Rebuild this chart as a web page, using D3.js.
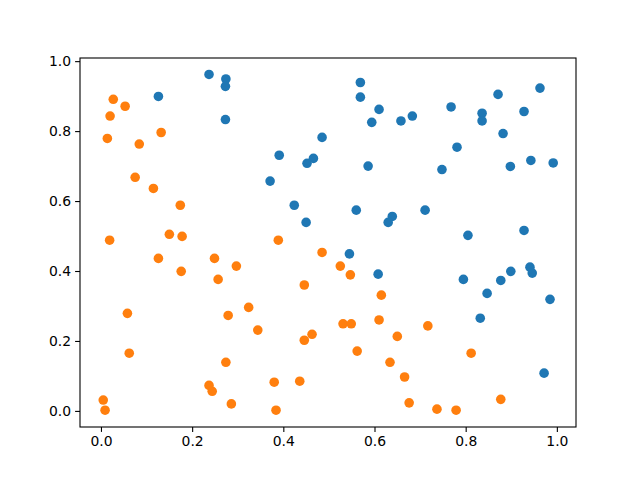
<!DOCTYPE html>
<html>
<head>
<meta charset="utf-8">
<script src="https://cdn.jsdelivr.net/npm/d3@7"></script>
<style>
  body { margin: 0; background: #fff; }
  text { font-family: "DejaVu Sans", sans-serif; }
</style>
</head>
<body>
<svg id="chart" width="640" height="480"></svg>
<script>
// series values
const blueX = [.237,.274,.273,.126,.273,.485,.391,.466,.452,.371,.424,.450,
  .569,.569,.610,.594,.658,.683,.768,.836,.836,.871,.963,.928,.882,.781,.586,.748,.898,.943,.992,.560,.711,.639,.630,.805,.928,
  .545,.608,.795,.877,.899,.941,.946,.847,.985,.832,.972];
const blueY = [.962,.949,.928,.899,.833,.782,.731,.722,.708,.657,.588,.539,
  .939,.897,.862,.825,.829,.843,.869,.851,.829,.905,.923,.856,.793,.754,.700,.690,.699,.716,.709,.574,.574,.556,.539,.502,.516,
  .449,.391,.376,.373,.399,.411,.394,.336,.319,.265,.108];
const orangeX = [.027,.053,.020,.132,.014,.084,.075,.115,.174,.150,.178,.019,.389,
  .485,.525,.547,.615,.531,.549,.610,.717,.650,.562,.812,.634,.666,.676,.877,.737,.779,
  .126,.249,.176,.297,.257,.446,.324,.058,.279,.344,.463,.446,.062,.274,.380,.436,.237,.244,.005,.286,.009,.384];
const orangeY = [.891,.871,.843,.796,.779,.763,.668,.636,.588,.505,.499,.488,.488,
  .453,.414,.389,.331,.249,.249,.260,.243,.213,.171,.165,.139,.097,.023,.033,.005,.002,
  .436,.436,.399,.414,.376,.360,.296,.279,.273,.231,.219,.202,.165,.139,.082,.085,.073,.056,.031,.020,.002,.002];
const xTicks = [0, 0.2, 0.4, 0.6, 0.8, 1.0];
const yTicks = [0, 0.2, 0.4, 0.6, 0.8, 1.0];

const svg = d3.select('#chart');
const margin = {top: 58, right: 64, bottom: 53, left: 80};
const W = 640, H = 480;

const x = d3.scaleLinear().domain([-0.046, 1.042]).range([margin.left, W - margin.right]);
const y = d3.scaleLinear().domain([-0.046, 1.009]).range([H - margin.bottom, margin.top]);

const series = [
  {xs: blueX, ys: blueY, color: '#1f77b4'},
  {xs: orangeX, ys: orangeY, color: '#ff7f0e'}
];

series.forEach(s => {
  svg.append('g').selectAll('circle')
    .data(s.xs.map((v, i) => [v, s.ys[i]]))
    .enter().append('circle')
    .attr('cx', d => x(d[0]))
    .attr('cy', d => y(d[1]))
    .attr('r', 4.8)
    .style('fill', s.color);
});

const xAxis = d3.axisBottom(x).tickValues(xTicks).tickSize(4.9).tickPadding(4).tickFormat(d3.format('.1f'));
const yAxis = d3.axisLeft(y).tickValues(yTicks).tickSize(4.9).tickPadding(4).tickFormat(d3.format('.1f'));

const gx = svg.append('g').attr('transform', `translate(0, ${H - margin.bottom})`).call(xAxis);
const gy = svg.append('g').attr('transform', `translate(${margin.left}, 0)`).call(yAxis);
[gx, gy].forEach(g => {
  g.select('.domain').remove();
  g.selectAll('.tick line').attr('stroke', '#000').attr('stroke-width', 1.1);
  g.selectAll('.tick text').style('font-size', '13.9px').attr('fill', '#000');
});

svg.append('rect')
  .attr('x', margin.left).attr('y', margin.top)
  .attr('width', W - margin.left - margin.right)
  .attr('height', H - margin.top - margin.bottom)
  .style('fill', 'none').style('stroke', '#000').style('stroke-width', 1.1);
</script>
</body>
</html>
